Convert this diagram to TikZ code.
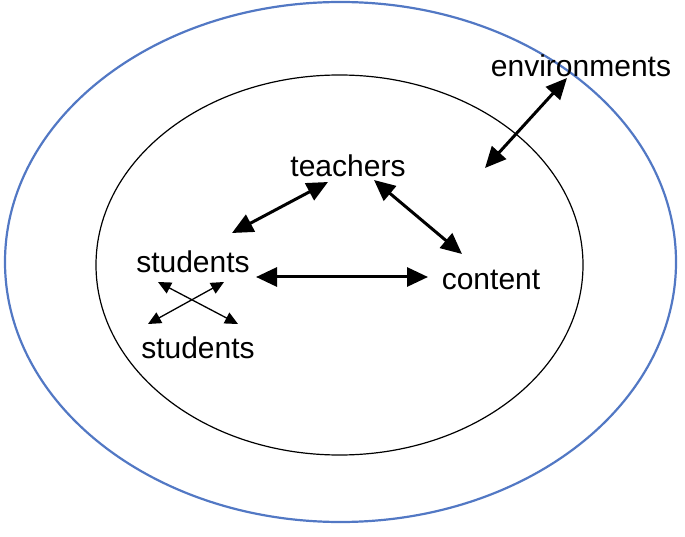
\documentclass[tikz,border=0pt]{standalone}
\usepackage{fontspec}
\setmainfont{Liberation Sans}
\usetikzlibrary{arrows.meta}
\definecolor{outerblue}{RGB}{82,120,196}
\tikzset{
  lbl/.style={inner sep=0pt, font=\fontsize{30}{36}\selectfont},
  bigarrow/.style={line width=3pt, {Triangle[length=21pt,width=19pt]}-{Triangle[length=21pt,width=19pt]}},
  smallarrow/.style={line width=1.3pt, {Triangle[length=13pt,width=12pt]}-{Triangle[length=13pt,width=12pt]}}
}
\begin{document}
\begin{tikzpicture}[x=1pt,y=-1pt]
\useasboundingbox (0,0) rectangle (685,537);
\draw[outerblue, line width=2.2pt] (340.5,262) ellipse [x radius=335.5, y radius=260];
\draw[black, line width=1.2pt] (339.5,265) ellipse [x radius=243.5, y radius=190];
\node[lbl] (env) at (581,66) {environments};
\node[lbl] (teach) at (348,166) {teachers};
\node[lbl] (stu1) at (193,262) {students};
\node[lbl] (cont) at (491,280) {content};
\node[lbl] (stu2) at (198,348) {students};
\coordinate (e1) at (567,78);
\coordinate (e2) at (485,168);
\coordinate (ts1) at (328,182);
\coordinate (ts2) at (232,233);
\coordinate (tc1) at (374,180);
\coordinate (tc2) at (462,254);
\coordinate (sc1) at (256,277);
\coordinate (sc2) at (428,277);
\coordinate (x1a) at (158,282);
\coordinate (x1b) at (238,324);
\coordinate (x2a) at (224,282);
\coordinate (x2b) at (148,324);
\draw[bigarrow] (e1) -- (e2);
\draw[bigarrow] (ts1) -- (ts2);
\draw[bigarrow] (tc1) -- (tc2);
\draw[bigarrow] (sc1) -- (sc2);
\draw[smallarrow] (x1a) -- (x1b);
\draw[smallarrow] (x2a) -- (x2b);
\end{tikzpicture}
\end{document}
